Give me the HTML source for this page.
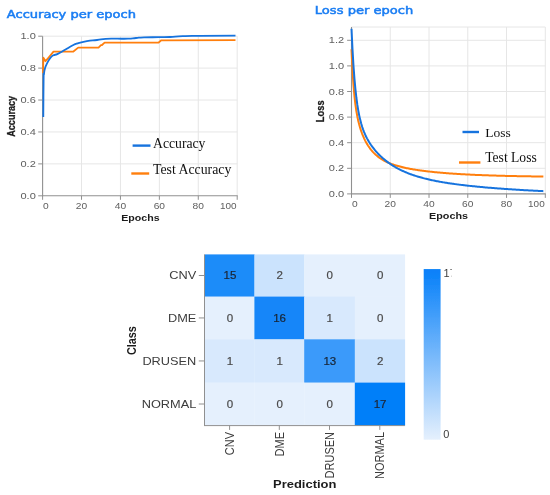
<!DOCTYPE html>
<html lang="en"><head><meta charset="utf-8"><title>Training curves and confusion matrix</title>
<style>html,body{margin:0;padding:0;background:#fff}svg{display:block}text{white-space:pre}</style>
</head><body>
<svg width="550" height="495" viewBox="0 0 550 495">
<rect width="550" height="495" fill="#fff"/>
<defs><filter id="soft" x="0" y="0" width="550" height="495" filterUnits="userSpaceOnUse"><feGaussianBlur stdDeviation="0.45"/></filter></defs>
<g filter="url(#soft)">
<rect width="550" height="495" fill="#fff"/>
<g id="acc">
<line x1="81.52" y1="36.2" x2="81.52" y2="195.8" stroke="#e6e6e6" stroke-width="1"/>
<line x1="120.44" y1="36.2" x2="120.44" y2="195.8" stroke="#e6e6e6" stroke-width="1"/>
<line x1="159.36" y1="36.2" x2="159.36" y2="195.8" stroke="#e6e6e6" stroke-width="1"/>
<line x1="198.28" y1="36.2" x2="198.28" y2="195.8" stroke="#e6e6e6" stroke-width="1"/>
<line x1="237.20" y1="36.2" x2="237.20" y2="195.8" stroke="#e6e6e6" stroke-width="1"/>
<line x1="42.6" y1="163.88" x2="237.2" y2="163.88" stroke="#e6e6e6" stroke-width="1"/>
<line x1="42.6" y1="131.96" x2="237.2" y2="131.96" stroke="#e6e6e6" stroke-width="1"/>
<line x1="42.6" y1="100.04" x2="237.2" y2="100.04" stroke="#e6e6e6" stroke-width="1"/>
<line x1="42.6" y1="68.12" x2="237.2" y2="68.12" stroke="#e6e6e6" stroke-width="1"/>
<line x1="42.6" y1="36.20" x2="237.2" y2="36.20" stroke="#e6e6e6" stroke-width="1"/>
<line x1="42.6" y1="36.2" x2="42.6" y2="196.3" stroke="#909090" stroke-width="1.1"/>
<line x1="42.1" y1="195.8" x2="237.7" y2="195.8" stroke="#909090" stroke-width="1.1"/>
<line x1="38.2" y1="195.80" x2="42.6" y2="195.80" stroke="#909090" stroke-width="1"/>
<text transform="translate(35.80,198.90) scale(1.24,1)" font-family='"Liberation Sans", Arial, sans-serif' font-size="8.9" font-weight="normal" text-anchor="end" fill="#606060" >0.0</text>
<line x1="38.2" y1="163.88" x2="42.6" y2="163.88" stroke="#909090" stroke-width="1"/>
<text transform="translate(35.80,166.98) scale(1.24,1)" font-family='"Liberation Sans", Arial, sans-serif' font-size="8.9" font-weight="normal" text-anchor="end" fill="#606060" >0.2</text>
<line x1="38.2" y1="131.96" x2="42.6" y2="131.96" stroke="#909090" stroke-width="1"/>
<text transform="translate(35.80,135.06) scale(1.24,1)" font-family='"Liberation Sans", Arial, sans-serif' font-size="8.9" font-weight="normal" text-anchor="end" fill="#606060" >0.4</text>
<line x1="38.2" y1="100.04" x2="42.6" y2="100.04" stroke="#909090" stroke-width="1"/>
<text transform="translate(35.80,103.14) scale(1.24,1)" font-family='"Liberation Sans", Arial, sans-serif' font-size="8.9" font-weight="normal" text-anchor="end" fill="#606060" >0.6</text>
<line x1="38.2" y1="68.12" x2="42.6" y2="68.12" stroke="#909090" stroke-width="1"/>
<text transform="translate(35.80,71.22) scale(1.24,1)" font-family='"Liberation Sans", Arial, sans-serif' font-size="8.9" font-weight="normal" text-anchor="end" fill="#606060" >0.8</text>
<line x1="38.2" y1="36.20" x2="42.6" y2="36.20" stroke="#909090" stroke-width="1"/>
<text transform="translate(35.80,39.30) scale(1.24,1)" font-family='"Liberation Sans", Arial, sans-serif' font-size="8.9" font-weight="normal" text-anchor="end" fill="#606060" >1.0</text>
<line x1="42.60" y1="195.8" x2="42.60" y2="199.8" stroke="#909090" stroke-width="1"/>
<text transform="translate(43.00,208.70) scale(1.15,1)" font-family='"Liberation Sans", Arial, sans-serif' font-size="8.9" font-weight="normal" text-anchor="start" fill="#606060" >0</text>
<line x1="81.52" y1="195.8" x2="81.52" y2="199.8" stroke="#909090" stroke-width="1"/>
<text transform="translate(81.52,208.70) scale(1.15,1)" font-family='"Liberation Sans", Arial, sans-serif' font-size="8.9" font-weight="normal" text-anchor="middle" fill="#606060" >20</text>
<line x1="120.44" y1="195.8" x2="120.44" y2="199.8" stroke="#909090" stroke-width="1"/>
<text transform="translate(120.44,208.70) scale(1.15,1)" font-family='"Liberation Sans", Arial, sans-serif' font-size="8.9" font-weight="normal" text-anchor="middle" fill="#606060" >40</text>
<line x1="159.36" y1="195.8" x2="159.36" y2="199.8" stroke="#909090" stroke-width="1"/>
<text transform="translate(159.36,208.70) scale(1.15,1)" font-family='"Liberation Sans", Arial, sans-serif' font-size="8.9" font-weight="normal" text-anchor="middle" fill="#606060" >60</text>
<line x1="198.28" y1="195.8" x2="198.28" y2="199.8" stroke="#909090" stroke-width="1"/>
<text transform="translate(198.28,208.70) scale(1.15,1)" font-family='"Liberation Sans", Arial, sans-serif' font-size="8.9" font-weight="normal" text-anchor="middle" fill="#606060" >80</text>
<line x1="237.20" y1="195.8" x2="237.20" y2="199.8" stroke="#909090" stroke-width="1"/>
<text transform="translate(236.60,208.70) scale(1.12,1)" font-family='"Liberation Sans", Arial, sans-serif' font-size="8.9" font-weight="normal" text-anchor="end" fill="#606060" >100</text>
<text transform="translate(121.30,220.50) scale(1.18,1)" font-family='"Liberation Sans", Arial, sans-serif' font-size="9" font-weight="bold" text-anchor="start" fill="#1c1c1c" >Epochs</text>
<text transform="translate(15.30,116.30) scale(1.2,1) rotate(-90)" font-family='"Liberation Sans", Arial, sans-serif' font-size="9.1" font-weight="bold" text-anchor="middle" fill="#1c1c1c" stroke="#1c1c1c" stroke-width="0.25">Accuracy</text>
<path d="M43.00,73.10 L43.40,57.60 L45.50,61.20 L48.40,57.80 L53.50,51.70 L73.10,51.70 L78.20,47.60 L98.50,47.60 L101.00,45.20 L102.00,45.00 L104.60,42.70 L158.40,42.70 L161.30,40.30 L235.50,40.20" fill="none" stroke="#ff7f0e" stroke-width="1.8" stroke-linejoin="round" stroke-linecap="butt"/>
<path d="M43.30,117.00 C43.38,107.13 43.41,91.47 43.60,80.00 C43.79,68.53 43.65,77.01 44.00,74.00 C44.35,70.99 44.13,71.47 44.90,68.70 C45.67,65.93 45.41,66.51 46.90,63.60 C48.39,60.69 48.74,60.01 50.50,57.80 C52.26,55.59 51.55,56.34 53.50,55.30 C55.45,54.26 54.71,55.37 57.80,53.90 C60.89,52.43 61.21,52.04 65.10,49.80 C68.99,47.56 69.09,47.23 72.40,45.50 C75.71,43.77 73.63,44.47 77.50,43.30 C81.37,42.13 81.67,41.98 86.90,41.10 C92.13,40.22 92.06,40.59 97.10,40.00 C102.14,39.41 100.76,39.25 105.80,38.90 C110.84,38.55 110.08,38.75 116.00,38.70 C121.92,38.65 122.67,38.89 128.00,38.70 C133.33,38.51 131.73,38.35 136.00,38.00 C140.27,37.65 137.87,37.61 144.00,37.40 C150.13,37.19 152.07,37.31 159.00,37.20 C165.93,37.09 163.68,37.27 170.00,37.00 C176.32,36.73 174.70,36.49 182.70,36.20 C190.70,35.91 185.92,36.03 200.00,35.90 C214.08,35.77 226.03,35.75 235.50,35.70" fill="none" stroke="#1673de" stroke-width="1.8" stroke-linejoin="round"/>
<line x1="132.6" y1="145.6" x2="150.5" y2="145.6" stroke="#1673de" stroke-width="2.4"/>
<line x1="131.3" y1="173.5" x2="149.2" y2="173.5" stroke="#ff7f0e" stroke-width="2.4"/>
<text transform="translate(153.00,147.70) scale(1.0,1)" font-family='"Liberation Serif", serif' font-size="13.7" font-weight="normal" text-anchor="start" fill="#111" >Accuracy</text>
<text transform="translate(153.00,174.20) scale(1.0,1)" font-family='"Liberation Serif", serif' font-size="13.8" font-weight="normal" text-anchor="start" fill="#111" >Test Accuracy</text>
<text transform="translate(6.80,18.00) scale(1.242,1)" font-family='"DejaVu Sans", "Liberation Sans", sans-serif' font-size="10.5" font-weight="normal" text-anchor="start" fill="#1a7df3" stroke="#1a7df3" stroke-width="0.5">Accuracy per epoch</text>
</g>
<g id="loss">
<line x1="390.26" y1="27.0" x2="390.26" y2="193.9" stroke="#e6e6e6" stroke-width="1"/>
<line x1="429.02" y1="27.0" x2="429.02" y2="193.9" stroke="#e6e6e6" stroke-width="1"/>
<line x1="467.78" y1="27.0" x2="467.78" y2="193.9" stroke="#e6e6e6" stroke-width="1"/>
<line x1="506.54" y1="27.0" x2="506.54" y2="193.9" stroke="#e6e6e6" stroke-width="1"/>
<line x1="545.30" y1="27.0" x2="545.30" y2="193.9" stroke="#e6e6e6" stroke-width="1"/>
<line x1="351.5" y1="168.30" x2="545.3" y2="168.30" stroke="#e6e6e6" stroke-width="1"/>
<line x1="351.5" y1="142.70" x2="545.3" y2="142.70" stroke="#e6e6e6" stroke-width="1"/>
<line x1="351.5" y1="117.10" x2="545.3" y2="117.10" stroke="#e6e6e6" stroke-width="1"/>
<line x1="351.5" y1="91.50" x2="545.3" y2="91.50" stroke="#e6e6e6" stroke-width="1"/>
<line x1="351.5" y1="65.90" x2="545.3" y2="65.90" stroke="#e6e6e6" stroke-width="1"/>
<line x1="351.5" y1="40.30" x2="545.3" y2="40.30" stroke="#e6e6e6" stroke-width="1"/>
<line x1="351.5" y1="27.0" x2="545.3" y2="27.0" stroke="#e6e6e6" stroke-width="1"/>
<line x1="351.5" y1="27.0" x2="351.5" y2="194.4" stroke="#909090" stroke-width="1.1"/>
<line x1="351.0" y1="193.9" x2="545.8" y2="193.9" stroke="#909090" stroke-width="1.1"/>
<line x1="347.1" y1="193.90" x2="351.5" y2="193.90" stroke="#909090" stroke-width="1"/>
<text transform="translate(344.10,197.00) scale(1.24,1)" font-family='"Liberation Sans", Arial, sans-serif' font-size="8.9" font-weight="normal" text-anchor="end" fill="#606060" >0.0</text>
<line x1="347.1" y1="168.30" x2="351.5" y2="168.30" stroke="#909090" stroke-width="1"/>
<text transform="translate(344.10,171.40) scale(1.24,1)" font-family='"Liberation Sans", Arial, sans-serif' font-size="8.9" font-weight="normal" text-anchor="end" fill="#606060" >0.2</text>
<line x1="347.1" y1="142.70" x2="351.5" y2="142.70" stroke="#909090" stroke-width="1"/>
<text transform="translate(344.10,145.80) scale(1.24,1)" font-family='"Liberation Sans", Arial, sans-serif' font-size="8.9" font-weight="normal" text-anchor="end" fill="#606060" >0.4</text>
<line x1="347.1" y1="117.10" x2="351.5" y2="117.10" stroke="#909090" stroke-width="1"/>
<text transform="translate(344.10,120.20) scale(1.24,1)" font-family='"Liberation Sans", Arial, sans-serif' font-size="8.9" font-weight="normal" text-anchor="end" fill="#606060" >0.6</text>
<line x1="347.1" y1="91.50" x2="351.5" y2="91.50" stroke="#909090" stroke-width="1"/>
<text transform="translate(344.10,94.60) scale(1.24,1)" font-family='"Liberation Sans", Arial, sans-serif' font-size="8.9" font-weight="normal" text-anchor="end" fill="#606060" >0.8</text>
<line x1="347.1" y1="65.90" x2="351.5" y2="65.90" stroke="#909090" stroke-width="1"/>
<text transform="translate(344.10,69.00) scale(1.24,1)" font-family='"Liberation Sans", Arial, sans-serif' font-size="8.9" font-weight="normal" text-anchor="end" fill="#606060" >1.0</text>
<line x1="347.1" y1="40.30" x2="351.5" y2="40.30" stroke="#909090" stroke-width="1"/>
<text transform="translate(344.10,43.40) scale(1.24,1)" font-family='"Liberation Sans", Arial, sans-serif' font-size="8.9" font-weight="normal" text-anchor="end" fill="#606060" >1.2</text>
<line x1="351.50" y1="193.9" x2="351.50" y2="197.9" stroke="#909090" stroke-width="1"/>
<text transform="translate(351.90,206.80) scale(1.15,1)" font-family='"Liberation Sans", Arial, sans-serif' font-size="8.9" font-weight="normal" text-anchor="start" fill="#606060" >0</text>
<line x1="390.26" y1="193.9" x2="390.26" y2="197.9" stroke="#909090" stroke-width="1"/>
<text transform="translate(390.26,206.80) scale(1.15,1)" font-family='"Liberation Sans", Arial, sans-serif' font-size="8.9" font-weight="normal" text-anchor="middle" fill="#606060" >20</text>
<line x1="429.02" y1="193.9" x2="429.02" y2="197.9" stroke="#909090" stroke-width="1"/>
<text transform="translate(429.02,206.80) scale(1.15,1)" font-family='"Liberation Sans", Arial, sans-serif' font-size="8.9" font-weight="normal" text-anchor="middle" fill="#606060" >40</text>
<line x1="467.78" y1="193.9" x2="467.78" y2="197.9" stroke="#909090" stroke-width="1"/>
<text transform="translate(467.78,206.80) scale(1.15,1)" font-family='"Liberation Sans", Arial, sans-serif' font-size="8.9" font-weight="normal" text-anchor="middle" fill="#606060" >60</text>
<line x1="506.54" y1="193.9" x2="506.54" y2="197.9" stroke="#909090" stroke-width="1"/>
<text transform="translate(506.54,206.80) scale(1.15,1)" font-family='"Liberation Sans", Arial, sans-serif' font-size="8.9" font-weight="normal" text-anchor="middle" fill="#606060" >80</text>
<line x1="545.30" y1="193.9" x2="545.30" y2="197.9" stroke="#909090" stroke-width="1"/>
<text transform="translate(544.70,206.80) scale(1.12,1)" font-family='"Liberation Sans", Arial, sans-serif' font-size="8.9" font-weight="normal" text-anchor="end" fill="#606060" >100</text>
<text transform="translate(429.00,218.70) scale(1.2,1)" font-family='"Liberation Sans", Arial, sans-serif' font-size="9" font-weight="bold" text-anchor="start" fill="#1c1c1c" >Epochs</text>
<text transform="translate(323.60,111.30) scale(1.1,1) rotate(-90)" font-family='"Liberation Sans", Arial, sans-serif' font-size="9.3" font-weight="bold" text-anchor="middle" fill="#1c1c1c" stroke="#1c1c1c" stroke-width="0.25">Loss</text>
<path d="M351.50,49.21 L352.47,69.73 L353.44,84.65 L354.41,95.77 L355.38,104.29 L356.35,111.00 L357.31,116.44 L358.28,120.97 L359.25,124.82 L360.22,128.17 L361.19,131.13 L362.16,133.77 L363.13,136.17 L364.10,138.34 L365.07,140.34 L366.03,142.18 L367.00,143.88 L367.97,145.45 L368.94,146.91 L369.91,148.27 L370.88,149.54 L371.85,150.72 L372.82,151.82 L373.79,152.85 L374.76,153.82 L375.73,154.73 L376.69,155.58 L377.66,156.38 L378.63,157.13 L379.60,157.84 L380.57,158.50 L381.54,159.13 L382.51,159.73 L383.48,160.29 L384.45,160.82 L385.41,161.33 L386.38,161.80 L387.35,162.26 L388.32,162.69 L389.29,163.10 L390.26,163.49 L391.23,163.87 L392.20,164.22 L393.17,164.56 L394.14,164.89 L395.11,165.20 L396.07,165.50 L397.04,165.79 L398.01,166.07 L398.98,166.33 L399.95,166.59 L400.92,166.84 L401.89,167.08 L402.86,167.31 L403.83,167.53 L404.79,167.74 L405.76,167.95 L406.73,168.15 L407.70,168.35 L408.67,168.54 L409.64,168.72 L410.61,168.90 L411.58,169.07 L412.55,169.24 L413.52,169.40 L414.49,169.56 L415.45,169.71 L416.42,169.87 L417.39,170.01 L418.36,170.16 L419.33,170.29 L420.30,170.43 L421.27,170.56 L422.24,170.69 L423.21,170.82 L424.17,170.94 L425.14,171.07 L426.11,171.18 L427.08,171.30 L428.05,171.41 L429.02,171.52 L429.99,171.63 L430.96,171.74 L431.93,171.84 L432.90,171.94 L433.87,172.04 L434.83,172.14 L435.80,172.23 L436.77,172.33 L437.74,172.42 L438.71,172.51 L439.68,172.59 L440.65,172.68 L441.62,172.76 L442.59,172.85 L443.55,172.93 L444.52,173.01 L445.49,173.08 L446.46,173.16 L447.43,173.24 L448.40,173.31 L449.37,173.38 L450.34,173.45 L451.31,173.52 L452.28,173.59 L453.25,173.65 L454.21,173.72 L455.18,173.78 L456.15,173.85 L457.12,173.91 L458.09,173.97 L459.06,174.03 L460.03,174.09 L461.00,174.14 L461.97,174.20 L462.94,174.25 L463.90,174.31 L464.87,174.36 L465.84,174.41 L466.81,174.46 L467.78,174.51 L468.75,174.56 L469.72,174.61 L470.69,174.66 L471.66,174.70 L472.62,174.75 L473.59,174.79 L474.56,174.84 L475.53,174.88 L476.50,174.92 L477.47,174.96 L478.44,175.00 L479.41,175.04 L480.38,175.08 L481.35,175.12 L482.31,175.16 L483.28,175.20 L484.25,175.23 L485.22,175.27 L486.19,175.30 L487.16,175.34 L488.13,175.37 L489.10,175.40 L490.07,175.44 L491.04,175.47 L492.00,175.50 L492.97,175.53 L493.94,175.56 L494.91,175.59 L495.88,175.62 L496.85,175.65 L497.82,175.68 L498.79,175.70 L499.76,175.73 L500.73,175.76 L501.69,175.78 L502.66,175.81 L503.63,175.83 L504.60,175.86 L505.57,175.88 L506.54,175.90 L507.51,175.93 L508.48,175.95 L509.45,175.97 L510.42,175.99 L511.38,176.02 L512.35,176.04 L513.32,176.06 L514.29,176.08 L515.26,176.10 L516.23,176.12 L517.20,176.14 L518.17,176.16 L519.14,176.17 L520.11,176.19 L521.07,176.21 L522.04,176.23 L523.01,176.25 L523.98,176.26 L524.95,176.28 L525.92,176.29 L526.89,176.31 L527.86,176.33 L528.83,176.34 L529.80,176.36 L530.76,176.37 L531.73,176.39 L532.70,176.40 L533.67,176.41 L534.64,176.43 L535.61,176.44 L536.58,176.45 L537.55,176.47 L538.52,176.48 L539.49,176.49 L540.45,176.51 L541.42,176.52 L542.39,176.53 L543.36,176.54" fill="none" stroke="#ff7f0e" stroke-width="2" stroke-linejoin="round"/>
<path d="M351.50,28.74 L352.47,48.98 L353.44,65.19 L354.41,78.24 L355.38,88.83 L356.35,97.49 L357.31,104.63 L358.28,110.58 L359.25,115.60 L360.22,119.87 L361.19,123.55 L362.16,126.76 L363.13,129.59 L364.10,132.12 L365.07,134.39 L366.03,136.47 L367.00,138.37 L367.97,140.13 L368.94,141.78 L369.91,143.32 L370.88,144.77 L371.85,146.15 L372.82,147.46 L373.79,148.70 L374.76,149.90 L375.73,151.04 L376.69,152.13 L377.66,153.19 L378.63,154.20 L379.60,155.18 L380.57,156.12 L381.54,157.02 L382.51,157.90 L383.48,158.75 L384.45,159.57 L385.41,160.36 L386.38,161.12 L387.35,161.86 L388.32,162.58 L389.29,163.27 L390.26,163.94 L391.23,164.59 L392.20,165.22 L393.17,165.83 L394.14,166.42 L395.11,167.00 L396.07,167.55 L397.04,168.09 L398.01,168.62 L398.98,169.12 L399.95,169.62 L400.92,170.09 L401.89,170.56 L402.86,171.01 L403.83,171.45 L404.79,171.87 L405.76,172.29 L406.73,172.69 L407.70,173.08 L408.67,173.46 L409.64,173.83 L410.61,174.19 L411.58,174.54 L412.55,174.88 L413.52,175.21 L414.49,175.54 L415.45,175.85 L416.42,176.16 L417.39,176.46 L418.36,176.75 L419.33,177.03 L420.30,177.31 L421.27,177.58 L422.24,177.84 L423.21,178.10 L424.17,178.35 L425.14,178.60 L426.11,178.84 L427.08,179.07 L428.05,179.30 L429.02,179.53 L429.99,179.75 L430.96,179.96 L431.93,180.17 L432.90,180.37 L433.87,180.57 L434.83,180.77 L435.80,180.96 L436.77,181.15 L437.74,181.34 L438.71,181.52 L439.68,181.69 L440.65,181.87 L441.62,182.04 L442.59,182.20 L443.55,182.37 L444.52,182.53 L445.49,182.69 L446.46,182.84 L447.43,182.99 L448.40,183.14 L449.37,183.29 L450.34,183.43 L451.31,183.57 L452.28,183.71 L453.25,183.85 L454.21,183.98 L455.18,184.12 L456.15,184.25 L457.12,184.37 L458.09,184.50 L459.06,184.62 L460.03,184.75 L461.00,184.87 L461.97,184.98 L462.94,185.10 L463.90,185.22 L464.87,185.33 L465.84,185.44 L466.81,185.55 L467.78,185.66 L468.75,185.76 L469.72,185.87 L470.69,185.97 L471.66,186.08 L472.62,186.18 L473.59,186.28 L474.56,186.37 L475.53,186.47 L476.50,186.57 L477.47,186.66 L478.44,186.75 L479.41,186.85 L480.38,186.94 L481.35,187.03 L482.31,187.12 L483.28,187.20 L484.25,187.29 L485.22,187.38 L486.19,187.46 L487.16,187.54 L488.13,187.63 L489.10,187.71 L490.07,187.79 L491.04,187.87 L492.00,187.95 L492.97,188.02 L493.94,188.10 L494.91,188.18 L495.88,188.25 L496.85,188.33 L497.82,188.40 L498.79,188.47 L499.76,188.55 L500.73,188.62 L501.69,188.69 L502.66,188.76 L503.63,188.83 L504.60,188.90 L505.57,188.96 L506.54,189.03 L507.51,189.10 L508.48,189.16 L509.45,189.23 L510.42,189.29 L511.38,189.35 L512.35,189.42 L513.32,189.48 L514.29,189.54 L515.26,189.60 L516.23,189.66 L517.20,189.72 L518.17,189.78 L519.14,189.84 L520.11,189.90 L521.07,189.96 L522.04,190.02 L523.01,190.07 L523.98,190.13 L524.95,190.18 L525.92,190.24 L526.89,190.29 L527.86,190.35 L528.83,190.40 L529.80,190.45 L530.76,190.51 L531.73,190.56 L532.70,190.61 L533.67,190.66 L534.64,190.71 L535.61,190.76 L536.58,190.81 L537.55,190.86 L538.52,190.91 L539.49,190.96 L540.45,191.01 L541.42,191.06 L542.39,191.10 L543.36,191.15" fill="none" stroke="#1673de" stroke-width="2" stroke-linejoin="round"/>
<line x1="462.5" y1="132" x2="479" y2="132" stroke="#1673de" stroke-width="2.4"/>
<line x1="459" y1="162.5" x2="480.4" y2="162.5" stroke="#ff7f0e" stroke-width="2.4"/>
<text transform="translate(485.20,136.50) scale(1.0,1)" font-family='"Liberation Serif", serif' font-size="13.5" font-weight="normal" text-anchor="start" fill="#111" >Loss</text>
<text transform="translate(485.20,162.30) scale(1.0,1)" font-family='"Liberation Serif", serif' font-size="13.6" font-weight="normal" text-anchor="start" fill="#111" >Test Loss</text>
<text transform="translate(314.80,13.50) scale(1.19,1)" font-family='"DejaVu Sans", "Liberation Sans", sans-serif' font-size="11" font-weight="normal" text-anchor="start" fill="#1a7df3" stroke="#1a7df3" stroke-width="0.5">Loss per epoch</text>
</g>
<g id="cm">
<rect x="204.8" y="254.4" width="49.90" height="42.50" fill="#1f8cf9"/>
<rect x="254.4" y="254.4" width="50.10" height="42.50" fill="#cbe3fd"/>
<rect x="304.2" y="254.4" width="50.90" height="42.50" fill="#e5f0fd"/>
<rect x="354.8" y="254.4" width="50.30" height="42.50" fill="#e5f0fd"/>
<rect x="204.8" y="296.6" width="49.90" height="43.00" fill="#e5f0fd"/>
<rect x="254.4" y="296.6" width="50.10" height="43.00" fill="#1286f9"/>
<rect x="304.2" y="296.6" width="50.90" height="43.00" fill="#d8e9fd"/>
<rect x="354.8" y="296.6" width="50.30" height="43.00" fill="#e5f0fd"/>
<rect x="204.8" y="339.3" width="49.90" height="43.60" fill="#d8e9fd"/>
<rect x="254.4" y="339.3" width="50.10" height="43.60" fill="#d8e9fd"/>
<rect x="304.2" y="339.3" width="50.90" height="43.60" fill="#3a9afa"/>
<rect x="354.8" y="339.3" width="50.30" height="43.60" fill="#cbe3fd"/>
<rect x="204.8" y="382.6" width="49.90" height="43.10" fill="#e5f0fd"/>
<rect x="254.4" y="382.6" width="50.10" height="43.10" fill="#e5f0fd"/>
<rect x="304.2" y="382.6" width="50.90" height="43.10" fill="#e5f0fd"/>
<rect x="354.8" y="382.6" width="50.30" height="43.10" fill="#057ff9"/>
<text transform="translate(229.90,279.20) scale(1.05,1)" font-family='"Liberation Sans", Arial, sans-serif' font-size="11" font-weight="normal" text-anchor="middle" fill="#1a2433" stroke="#1a2433" stroke-width="0.2">15</text>
<text transform="translate(279.60,279.20) scale(1.05,1)" font-family='"Liberation Sans", Arial, sans-serif' font-size="11" font-weight="normal" text-anchor="middle" fill="#4a4a4a" stroke="#4a4a4a" stroke-width="0.2">2</text>
<text transform="translate(329.80,279.20) scale(1.05,1)" font-family='"Liberation Sans", Arial, sans-serif' font-size="11" font-weight="normal" text-anchor="middle" fill="#4a4a4a" stroke="#4a4a4a" stroke-width="0.2">0</text>
<text transform="translate(380.10,279.20) scale(1.05,1)" font-family='"Liberation Sans", Arial, sans-serif' font-size="11" font-weight="normal" text-anchor="middle" fill="#4a4a4a" stroke="#4a4a4a" stroke-width="0.2">0</text>
<text transform="translate(229.90,321.65) scale(1.05,1)" font-family='"Liberation Sans", Arial, sans-serif' font-size="11" font-weight="normal" text-anchor="middle" fill="#4a4a4a" stroke="#4a4a4a" stroke-width="0.2">0</text>
<text transform="translate(279.60,321.65) scale(1.05,1)" font-family='"Liberation Sans", Arial, sans-serif' font-size="11" font-weight="normal" text-anchor="middle" fill="#1a2433" stroke="#1a2433" stroke-width="0.2">16</text>
<text transform="translate(329.80,321.65) scale(1.05,1)" font-family='"Liberation Sans", Arial, sans-serif' font-size="11" font-weight="normal" text-anchor="middle" fill="#4a4a4a" stroke="#4a4a4a" stroke-width="0.2">1</text>
<text transform="translate(380.10,321.65) scale(1.05,1)" font-family='"Liberation Sans", Arial, sans-serif' font-size="11" font-weight="normal" text-anchor="middle" fill="#4a4a4a" stroke="#4a4a4a" stroke-width="0.2">0</text>
<text transform="translate(229.90,364.65) scale(1.05,1)" font-family='"Liberation Sans", Arial, sans-serif' font-size="11" font-weight="normal" text-anchor="middle" fill="#4a4a4a" stroke="#4a4a4a" stroke-width="0.2">1</text>
<text transform="translate(279.60,364.65) scale(1.05,1)" font-family='"Liberation Sans", Arial, sans-serif' font-size="11" font-weight="normal" text-anchor="middle" fill="#4a4a4a" stroke="#4a4a4a" stroke-width="0.2">1</text>
<text transform="translate(329.80,364.65) scale(1.05,1)" font-family='"Liberation Sans", Arial, sans-serif' font-size="11" font-weight="normal" text-anchor="middle" fill="#1a2433" stroke="#1a2433" stroke-width="0.2">13</text>
<text transform="translate(380.10,364.65) scale(1.05,1)" font-family='"Liberation Sans", Arial, sans-serif' font-size="11" font-weight="normal" text-anchor="middle" fill="#4a4a4a" stroke="#4a4a4a" stroke-width="0.2">2</text>
<text transform="translate(229.90,407.70) scale(1.05,1)" font-family='"Liberation Sans", Arial, sans-serif' font-size="11" font-weight="normal" text-anchor="middle" fill="#4a4a4a" stroke="#4a4a4a" stroke-width="0.2">0</text>
<text transform="translate(279.60,407.70) scale(1.05,1)" font-family='"Liberation Sans", Arial, sans-serif' font-size="11" font-weight="normal" text-anchor="middle" fill="#4a4a4a" stroke="#4a4a4a" stroke-width="0.2">0</text>
<text transform="translate(329.80,407.70) scale(1.05,1)" font-family='"Liberation Sans", Arial, sans-serif' font-size="11" font-weight="normal" text-anchor="middle" fill="#4a4a4a" stroke="#4a4a4a" stroke-width="0.2">0</text>
<text transform="translate(380.10,407.70) scale(1.05,1)" font-family='"Liberation Sans", Arial, sans-serif' font-size="11" font-weight="normal" text-anchor="middle" fill="#1a2433" stroke="#1a2433" stroke-width="0.2">17</text>
<line x1="204.5" y1="254.4" x2="204.5" y2="425.9" stroke="#909090" stroke-width="1"/>
<line x1="204.0" y1="425.59999999999997" x2="404.8" y2="425.59999999999997" stroke="#909090" stroke-width="1"/>
<line x1="198.8" y1="275.50" x2="204.8" y2="275.50" stroke="#909090" stroke-width="1"/>
<text transform="translate(196.30,279.20) scale(1.24,1)" font-family='"Liberation Sans", Arial, sans-serif' font-size="10.3" font-weight="normal" text-anchor="end" fill="#3c3c3c" >CNV</text>
<line x1="198.8" y1="317.95" x2="204.8" y2="317.95" stroke="#909090" stroke-width="1"/>
<text transform="translate(196.30,321.65) scale(1.24,1)" font-family='"Liberation Sans", Arial, sans-serif' font-size="10.3" font-weight="normal" text-anchor="end" fill="#3c3c3c" >DME</text>
<line x1="198.8" y1="360.95" x2="204.8" y2="360.95" stroke="#909090" stroke-width="1"/>
<text transform="translate(196.30,364.65) scale(1.24,1)" font-family='"Liberation Sans", Arial, sans-serif' font-size="10.3" font-weight="normal" text-anchor="end" fill="#3c3c3c" >DRUSEN</text>
<line x1="198.8" y1="404.00" x2="204.8" y2="404.00" stroke="#909090" stroke-width="1"/>
<text transform="translate(196.30,407.70) scale(1.24,1)" font-family='"Liberation Sans", Arial, sans-serif' font-size="10.3" font-weight="normal" text-anchor="end" fill="#3c3c3c" >NORMAL</text>
<line x1="229.60" y1="425.4" x2="229.60" y2="429.9" stroke="#909090" stroke-width="1"/>
<text transform="translate(234.20,432.00) scale(1.18,1) rotate(-90)" font-family='"Liberation Sans", Arial, sans-serif' font-size="11" font-weight="normal" text-anchor="end" fill="#3c3c3c" >CNV</text>
<line x1="279.30" y1="425.4" x2="279.30" y2="429.9" stroke="#909090" stroke-width="1"/>
<text transform="translate(283.90,432.00) scale(1.18,1) rotate(-90)" font-family='"Liberation Sans", Arial, sans-serif' font-size="11" font-weight="normal" text-anchor="end" fill="#3c3c3c" >DME</text>
<line x1="329.50" y1="425.4" x2="329.50" y2="429.9" stroke="#909090" stroke-width="1"/>
<text transform="translate(334.10,432.00) scale(1.18,1) rotate(-90)" font-family='"Liberation Sans", Arial, sans-serif' font-size="11" font-weight="normal" text-anchor="end" fill="#3c3c3c" >DRUSEN</text>
<line x1="379.80" y1="425.4" x2="379.80" y2="429.9" stroke="#909090" stroke-width="1"/>
<text transform="translate(384.40,432.00) scale(1.18,1) rotate(-90)" font-family='"Liberation Sans", Arial, sans-serif' font-size="11" font-weight="normal" text-anchor="end" fill="#3c3c3c" >NORMAL</text>
<text transform="translate(135.90,340.60) scale(1.2,1) rotate(-90)" font-family='"Liberation Sans", Arial, sans-serif' font-size="10.9" font-weight="bold" text-anchor="middle" fill="#1c1c1c" >Class</text>
<text transform="translate(273.00,487.70) scale(1.3,1)" font-family='"Liberation Sans", Arial, sans-serif' font-size="10" font-weight="bold" text-anchor="start" fill="#1c1c1c" >Prediction</text>
<defs><linearGradient id="cb" x1="0" y1="0" x2="0" y2="1"><stop offset="0" stop-color="#057ff9"/><stop offset="1" stop-color="#e5f0fd"/></linearGradient><clipPath id="clip1"><rect x="440" y="262" width="11.8" height="20"/></clipPath></defs>
<rect x="423.7" y="269.1" width="16.9" height="170.6" fill="url(#cb)"/>
<g clip-path="url(#clip1)">
<text transform="translate(443.60,277.30) scale(1.1,1)" font-family='"Liberation Sans", Arial, sans-serif' font-size="10" font-weight="normal" text-anchor="start" fill="#3c3c3c" >17</text>
</g>
<text transform="translate(443.20,438.00) scale(1.1,1)" font-family='"Liberation Sans", Arial, sans-serif' font-size="10" font-weight="normal" text-anchor="start" fill="#3c3c3c" >0</text>
</g>
</g>
</svg>
</body></html>
